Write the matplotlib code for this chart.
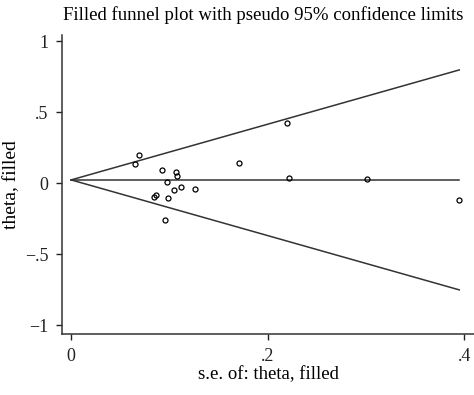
import numpy as np
import matplotlib.pyplot as plt

plt.rcParams['font.family'] = ['Liberation Serif', 'DejaVu Serif']

# standard errors and effect sizes (observed + filled studies)
se = [0.069, 0.065, 0.092, 0.107, 0.108, 0.098, 0.112, 0.126, 0.105,
      0.086, 0.084, 0.099, 0.096, 0.220, 0.171, 0.222, 0.301, 0.395]
theta = [0.199, 0.132, 0.094, 0.077, 0.047, 0.009, -0.030, -0.040, -0.051,
         -0.085, -0.096, -0.106, -0.261, 0.423, 0.141, 0.037, 0.028, -0.115]
pooled = 0.023

se = np.array(se)
theta = np.array(theta)
se_line = np.array([0, se.max()])

fig = plt.figure(figsize=(4.74, 3.95), dpi=100)
ax = fig.add_axes([0.131, 0.154, 0.869, 0.757])

ax.plot(se_line, pooled + 1.96 * se_line, color='#333333', lw=1.1)
ax.plot(se_line, pooled - 1.96 * se_line, color='#333333', lw=1.1)
ax.plot(se_line, [pooled, pooled], color='#333333', lw=1.1)
ax.plot(se, theta, 'o', mfc='none', mec='black', ms=3.6, mew=0.9)

ax.set_xlim(-0.0092, 0.410)
ax.set_ylim(-1.063, 1.042)
ax.set_xticks([0, 0.2, 0.4])
ax.set_xticklabels(['0', '.2', '.4'])
ax.set_yticks([-1, -0.5, 0, 0.5, 1])
ax.set_yticklabels(['\u22121', '\u2212.5', '0', '.5', '1'])
ax.tick_params(direction='out', length=4, width=1, colors='#222222',
               labelsize=13, pad=6)

for s in ['top', 'right']:
    ax.spines[s].set_visible(False)
for s in ['left', 'bottom']:
    ax.spines[s].set_color('#333333')
    ax.spines[s].set_linewidth(1.1)

ax.set_xlabel('s.e. of: theta, filled', fontsize=13.5, labelpad=1)
ax.set_ylabel('theta, filled', fontsize=14, labelpad=3)
ax.set_title('Filled funnel plot with pseudo 95% confidence limits',
             fontsize=13.5, pad=11, x=0.488)

fig.savefig('out.png', dpi=100)
